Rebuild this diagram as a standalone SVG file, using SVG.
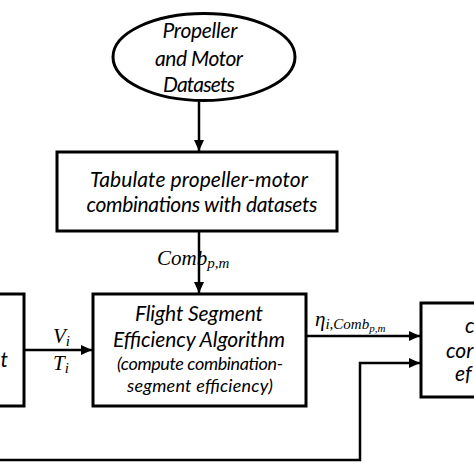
<svg xmlns="http://www.w3.org/2000/svg" width="474" height="474" viewBox="0 0 474 474">
<style>
.box{fill:#fff;stroke:#000;stroke-width:3}
.lbl{font-family:Lato,"Liberation Sans",sans-serif;font-style:italic;fill:#000;text-anchor:middle}
.big{font-size:21px}
.sm{font-size:18px}
.math{font-family:"Liberation Serif","DejaVu Serif",serif;font-style:italic;fill:#000}
.con{fill:none;stroke:#000;stroke-width:2.5}
</style>
<defs>
<marker id="ah" markerUnits="userSpaceOnUse" markerWidth="11" markerHeight="10" refX="11" refY="5" orient="auto">
<path d="M0,0 L11,5 L0,10 z" fill="#000"/>
</marker>
</defs>
<rect width="474" height="474" fill="#fff"/>
<g id="connectors">
<line class="con" x1="199" y1="100" x2="199" y2="151" marker-end="url(#ah)"/>
<line class="con" x1="199" y1="231" x2="199" y2="293" marker-end="url(#ah)"/>
<line class="con" x1="24" y1="350" x2="92" y2="350" marker-end="url(#ah)"/>
<line class="con" x1="306" y1="336" x2="420" y2="336" marker-end="url(#ah)"/>
<polyline class="con" points="-10,460 360,460 360,363 420,363" marker-end="url(#ah)"/>
</g>
<g id="datasets">
<ellipse cx="204" cy="57" rx="91" ry="43.5" fill="#fff" stroke="#000" stroke-width="3"/>
<text class="lbl big" x="200" y="38" textLength="75">Propeller</text>
<text class="lbl big" x="199" y="66" textLength="88">and Motor</text>
<text class="lbl big" x="199" y="92" textLength="72">Datasets</text>
</g>
<g id="tabulate">
<rect class="box" x="57" y="152" width="280" height="79"/>
<text class="lbl big" x="199" y="187" textLength="218">Tabulate propeller-motor</text>
<text class="lbl big" x="202" y="212" textLength="231">combinations with datasets</text>
</g>
<g id="left-node">
<rect class="box" x="-100" y="294" width="124" height="112"/>
<text class="lbl big" x="8" y="367" style="text-anchor:end">t</text>
</g>
<g id="algorithm">
<rect class="box" x="93" y="294" width="213" height="112"/>
<text class="lbl big" x="199" y="321" textLength="128">Flight Segment</text>
<text class="lbl big" x="199" y="347" textLength="172">Efficiency Algorithm</text>
<text class="lbl sm" x="200" y="370" textLength="166">(compute combination-</text>
<text class="lbl sm" x="200" y="392" textLength="146">segment efficiency)</text>
</g>
<g id="right-node">
<rect class="box" x="421" y="303" width="120" height="94"/>
<text class="lbl big" x="465" y="333" style="text-anchor:start">c</text>
<text class="lbl big" x="446" y="358" style="text-anchor:start">cor</text>
<text class="lbl big" x="455" y="381" style="text-anchor:start">ef</text>
</g>
<g id="labels">
<text class="math" x="157" y="265" font-size="21">Comb<tspan font-size="15" dy="3">p,m</tspan></text>
<text class="math" x="53" y="343" font-size="21">V<tspan font-size="15" dy="3">i</tspan></text>
<text class="math" x="53" y="370" font-size="21">T<tspan font-size="15" dy="3">i</tspan></text>
<text class="math" x="315" y="326" font-size="21">η<tspan font-size="15" dy="3">i,Comb</tspan><tspan font-size="11" dy="3">p,m</tspan></text>
</g>
</svg>
